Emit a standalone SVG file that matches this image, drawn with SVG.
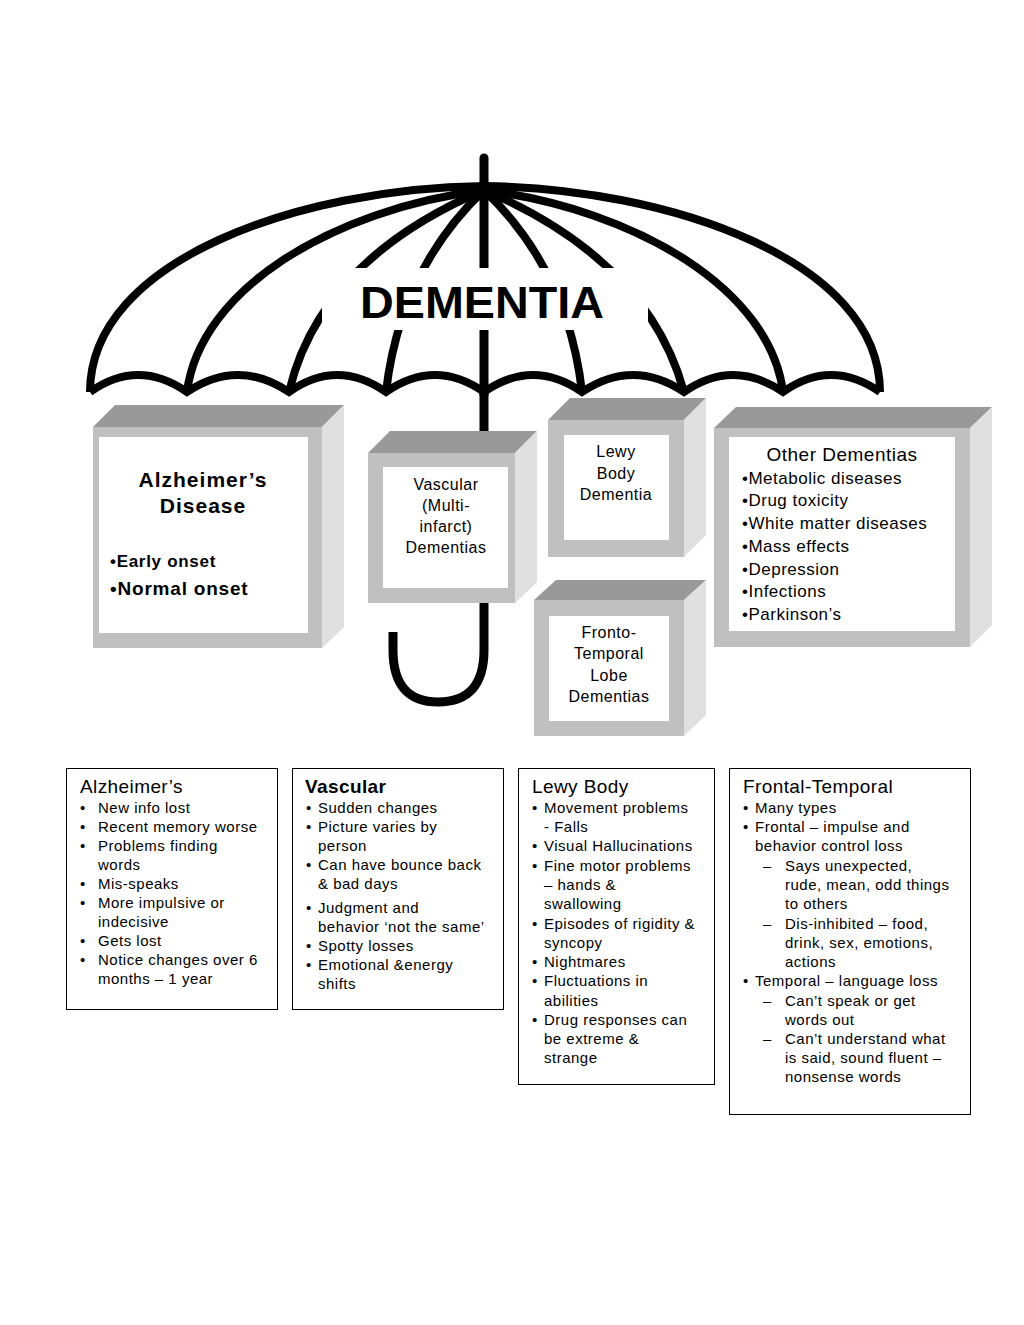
<svg xmlns="http://www.w3.org/2000/svg" width="1024" height="1325" viewBox="0 0 1024 1325">
<style>
.u{fill:none;stroke:#000;stroke-width:8;stroke-linecap:butt}
.fr{fill:#c0c0c0}.tp{fill:#999}.rt{fill:#e0e0e0}.in{fill:#fff}
text{font-family:"Liberation Sans",Arial,sans-serif;fill:#000;letter-spacing:0.5px}
.c{text-anchor:middle}
.bx{fill:#fff;stroke:#000;stroke-width:1}
.s{font-size:15px;letter-spacing:0.75px}.h{font-size:19px;letter-spacing:0.4px}
</style>
<rect width="1024" height="1325" fill="#fff"/>
<g id="umbrella">
<line x1="484" y1="158" x2="484" y2="395" stroke="#000" stroke-width="9" stroke-linecap="round"/>
<path class="u" d="M90,392 C90,260 300,188 484,186 C668,188 880,260 880,392"/>
<path class="u" d="M484,190 C330,210 200,290 187,392"/>
<path class="u" d="M484,190 Q320,260 289,392"/>
<path class="u" d="M484,190 Q400,270 386,392"/>
<path class="u" d="M484,190 Q568,270 582,392"/>
<path class="u" d="M484,190 Q648,260 684,392"/>
<path class="u" d="M484,190 C638,210 770,290 783,392"/>
<path class="u" d="M90,392 Q138,358 187,392 Q238,358 289,392 Q337,358 386,392 Q435,358 484,392 Q533,358 582,392 Q633,358 684,392 Q733,358 783,392 Q831,358 880,392"/>
<rect x="322" y="268" width="326" height="62" fill="#fff"/>
<line x1="484" y1="330" x2="484" y2="392" stroke="#000" stroke-width="8"/>
<path class="u" style="stroke-width:9" d="M484,392 L484,650 Q484,702 438,702 Q393,702 393,650 L393,632"/>
<text x="482" y="318" class="c" font-size="44" font-weight="bold" style="letter-spacing:0" textLength="244" lengthAdjust="spacingAndGlyphs">DEMENTIA</text>
</g>
<g id="alzheimers">
<polygon class="tp" points="93,427 115,405 344,405 322,427"/>
<polygon class="rt" points="322,427 344,405 344,627 322,648"/>
<rect class="fr" x="93" y="427" width="229" height="221"/>
<rect class="in" x="99" y="437" width="209" height="196"/>
<text x="203" y="487" class="c" font-size="21" font-weight="bold" style="letter-spacing:1px">Alzheimer’s</text>
<text x="203" y="513" class="c" font-size="21" font-weight="bold" style="letter-spacing:1px">Disease</text>
<text x="110" y="567" font-size="17" font-weight="bold" style="letter-spacing:0.7px">•Early onset</text>
<text x="110" y="595" font-size="19" font-weight="bold" style="letter-spacing:0.8px">•Normal onset</text>
</g>
<g id="vascular">
<polygon class="tp" points="368,453 390,431 537,431 515,453"/>
<polygon class="rt" points="515,453 537,431 537,582 515,603"/>
<rect class="fr" x="368" y="453" width="147" height="150"/>
<rect class="in" x="383" y="467" width="125" height="121"/>
<g font-size="16" style="letter-spacing:1px">
<text class="c" x="446" y="490">Vascular</text>
<text class="c" x="446" y="511">(Multi-</text>
<text class="c" x="446" y="532">infarct)</text>
<text class="c" x="446" y="553">Dementias</text>
</g>
</g>
<g id="lewy">
<polygon class="tp" points="548,420 570,398 706,398 684,420"/>
<polygon class="rt" points="684,420 706,398 706,535 684,557"/>
<rect class="fr" x="548" y="420" width="136" height="137"/>
<rect class="in" x="564" y="435" width="105" height="105"/>
<g font-size="16" style="letter-spacing:1px">
<text class="c" x="616" y="457">Lewy</text>
<text class="c" x="616" y="479">Body</text>
<text class="c" x="616" y="500">Dementia</text>
</g>
</g>
<g id="fronto">
<polygon class="tp" points="534,600 556,580 706,580 684,600"/>
<polygon class="rt" points="684,600 706,580 706,715 684,736"/>
<rect class="fr" x="534" y="600" width="150" height="136"/>
<rect class="in" x="549" y="616" width="120" height="105"/>
<g font-size="16" style="letter-spacing:1px">
<text class="c" x="609" y="638">Fronto-</text>
<text class="c" x="609" y="659">Temporal</text>
<text class="c" x="609" y="681">Lobe</text>
<text class="c" x="609" y="702">Dementias</text>
</g>
</g>
<g id="other">
<polygon class="tp" points="714,428 736,407 992,407 970,428"/>
<polygon class="rt" points="970,428 992,407 992,625 970,647"/>
<rect class="fr" x="714" y="428" width="256" height="219"/>
<rect class="in" x="729" y="437" width="226" height="194"/>
<text class="c" x="842" y="461" font-size="19">Other Dementias</text>
<g font-size="17" style="letter-spacing:0.8px">
<text x="742" y="484">•Metabolic diseases</text>
<text x="742" y="506">•Drug toxicity</text>
<text x="742" y="529">•White matter diseases</text>
<text x="742" y="552">•Mass effects</text>
<text x="742" y="575">•Depression</text>
<text x="742" y="597">•Infections</text>
<text x="742" y="620">•Parkinson’s</text>
</g>
</g>
<g id="alz-notes">
<rect class="bx" x="66.5" y="768.5" width="211" height="241"/>
<text class="h" x="80" y="793">Alzheimer’s</text>
<g class="s">
<text x="80" y="813">•</text><text x="98" y="813">New info lost</text>
<text x="80" y="832">•</text><text x="98" y="832">Recent memory worse</text>
<text x="80" y="851">•</text><text x="98" y="851">Problems finding</text>
<text x="98" y="870">words</text>
<text x="80" y="889">•</text><text x="98" y="889">Mis-speaks</text>
<text x="80" y="908">•</text><text x="98" y="908">More impulsive or</text>
<text x="98" y="927">indecisive</text>
<text x="80" y="946">•</text><text x="98" y="946">Gets lost</text>
<text x="80" y="965">•</text><text x="98" y="965">Notice changes over 6</text>
<text x="98" y="984">months – 1 year</text>
</g>
</g>
<g id="vasc-notes">
<rect class="bx" x="292.5" y="768.5" width="211" height="241"/>
<text class="h" x="305" y="793" font-weight="bold">Vascular</text>
<g class="s">
<text x="306" y="813">•</text><text x="318" y="813">Sudden changes</text>
<text x="306" y="832">•</text><text x="318" y="832">Picture varies by</text>
<text x="318" y="851">person</text>
<text x="306" y="870">•</text><text x="318" y="870">Can have bounce back</text>
<text x="318" y="889">&amp; bad days</text>
<text x="306" y="913">•</text><text x="318" y="913">Judgment and</text>
<text x="318" y="932">behavior ‘not the same’</text>
<text x="306" y="951">•</text><text x="318" y="951">Spotty losses</text>
<text x="306" y="970">•</text><text x="318" y="970">Emotional &amp;energy</text>
<text x="318" y="989">shifts</text>
</g>
</g>
<g id="lewy-notes">
<rect class="bx" x="518.5" y="768.5" width="196" height="316"/>
<text class="h" x="532" y="793">Lewy Body</text>
<g class="s">
<text x="532" y="813">•</text><text x="544" y="813">Movement problems</text>
<text x="544" y="832">- Falls</text>
<text x="532" y="851">•</text><text x="544" y="851">Visual Hallucinations</text>
<text x="532" y="871">•</text><text x="544" y="871">Fine motor problems</text>
<text x="544" y="890">– hands &amp;</text>
<text x="544" y="909">swallowing</text>
<text x="532" y="929">•</text><text x="544" y="929">Episodes of rigidity &amp;</text>
<text x="544" y="948">syncopy</text>
<text x="532" y="967">•</text><text x="544" y="967">Nightmares</text>
<text x="532" y="986">•</text><text x="544" y="986">Fluctuations in</text>
<text x="544" y="1006">abilities</text>
<text x="532" y="1025">•</text><text x="544" y="1025">Drug responses can</text>
<text x="544" y="1044">be extreme &amp;</text>
<text x="544" y="1063">strange</text>
</g>
</g>
<g id="ft-notes">
<rect class="bx" x="729.5" y="768.5" width="241" height="346"/>
<text class="h" x="743" y="793">Frontal-Temporal</text>
<g class="s">
<text x="743" y="813">•</text><text x="755" y="813">Many types</text>
<text x="743" y="832">•</text><text x="755" y="832">Frontal – impulse and</text>
<text x="755" y="851">behavior control loss</text>
<text x="763" y="871" fill="#666">–</text><text x="785" y="871">Says unexpected,</text>
<text x="785" y="890">rude, mean, odd things</text>
<text x="785" y="909">to others</text>
<text x="763" y="929" fill="#666">–</text><text x="785" y="929">Dis-inhibited – food,</text>
<text x="785" y="948">drink, sex, emotions,</text>
<text x="785" y="967">actions</text>
<text x="743" y="986">•</text><text x="755" y="986">Temporal – language loss</text>
<text x="763" y="1006" fill="#666">–</text><text x="785" y="1006">Can’t speak or get</text>
<text x="785" y="1025">words out</text>
<text x="763" y="1044" fill="#666">–</text><text x="785" y="1044">Can’t understand what</text>
<text x="785" y="1063">is said, sound fluent –</text>
<text x="785" y="1082">nonsense words</text>
</g>
</g>
</svg>
